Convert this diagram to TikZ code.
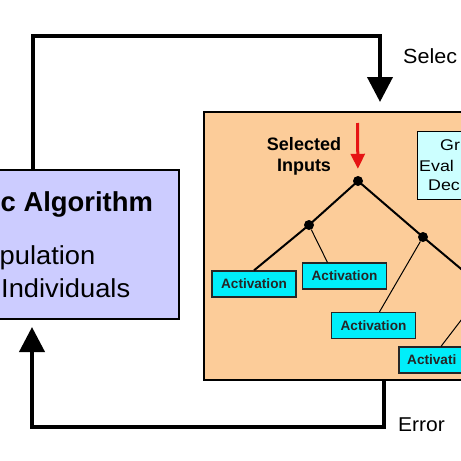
\documentclass[tikz,border=0pt]{standalone}
\usepackage{fontspec}
\setmainfont{Liberation Sans}
\newfontfamily\wsans[FakeStretch=1.05]{Liberation Sans}
\newfontfamily\gsans[FakeStretch=1.15]{Liberation Sans}
\usetikzlibrary{arrows.meta,calc}
\definecolor{peach}{RGB}{252,204,153}
\definecolor{lav}{RGB}{204,204,255}
\definecolor{acyan}{RGB}{0,238,250}
\definecolor{lcyan}{RGB}{204,255,255}
\definecolor{redarr}{RGB}{230,20,20}
\begin{document}
\begin{tikzpicture}[x=1pt,y=-1pt,
  conn/.style={line width=4pt},
  bigtip/.style={-{Triangle[width=25pt,length=25pt]}},
  gabox/.style={draw=black,line width=2pt,fill=lav,minimum width=199pt,minimum height=149pt,inner sep=0pt},
  orbox/.style={draw=black,line width=2pt,fill=peach,minimum width=356pt,minimum height=268pt,inner sep=0pt},
  grbox/.style={draw=black,line width=1pt,fill=lcyan,minimum width=83pt,minimum height=68pt,inner sep=0pt},
  actbox/.style={draw=black!85,line width=1.2pt,fill=acyan,minimum width=84pt,minimum height=26pt,inner sep=0pt,
     font=\bfseries\fontsize{13.6}{15}\selectfont,text=black!85},
  dot/.style={circle,fill=black,minimum size=10pt,inner sep=0pt},
  thick2/.style={line width=2pt},
  thin1/.style={line width=1pt},
  txt/.style={inner sep=0pt}]
\useasboundingbox (0,0) rectangle (461,461);
\clip (0,0) rectangle (461,461);
\fill[white] (0,0) rectangle (461,461);

% boxes
\node[gabox] (ga) at (79,244.5) {};
\node[orbox] (ob) at (382,246) {};
\node[grbox] (gr) at (458.5,165) {};

% GA texts
\node[txt,anchor=base west,font=\bfseries\fontsize{27.4}{30}\selectfont] (gat) at (0.5,211) {c Algorithm};
\node[txt,anchor=base west,font=\wsans\fontsize{26}{28}\selectfont] (gap) at (-0.5,264) {pulation};
\node[txt,anchor=base west,font=\wsans\fontsize{26}{28}\selectfont] (gai) at (1,297) {Individuals};

% outside labels
\node[txt,anchor=base west,font=\wsans\fontsize{20.5}{24}\selectfont] (sel) at (403,63) {Selec};
\node[txt,anchor=base west,font=\wsans\fontsize{20}{24}\selectfont] (err) at (398,431) {Error};

% Gr box texts
\node[txt,anchor=base west,font=\gsans\fontsize{15.5}{18}\selectfont] (gr1) at (440,150) {Gr};
\node[txt,anchor=base west,font=\gsans\fontsize{15.5}{18}\selectfont] (gr2) at (419,171) {Eval};
\node[txt,anchor=base west,font=\gsans\fontsize{15.5}{18}\selectfont] (gr3) at (428,190) {Dec};

% selected inputs
\node[txt,align=center,font=\bfseries\fontsize{18}{21}\selectfont] (si) at (304,156) {Selected\\Inputs};

% tree
\node[dot] (root) at (358,181) {};
\node[dot] (nl) at (309,225) {};
\node[dot] (nr) at (423,237) {};
\node[dot] (nrr) at (485,289) {};
\node[actbox] (a1) at (254,284) {Activation};
\node[actbox] (a2) at (344.5,276) {Activation};
\node[actbox] (a3) at (373.5,325.5) {Activation};
\node[actbox] (a4) at (441,360) {};
\node[txt,anchor=west,font=\bfseries\fontsize{13.6}{15}\selectfont,text=black!85] (a4t) at (407,360) {Activati};

\draw[thick2] (a1.north) -- (nl.center) -- (root.center) -- (nr.center) -- (nrr.center);
\draw[thin1] (nl) -- ($(a2.north west)!0.3!(a2.north east)$);
\draw[thin1] (nr) -- ($(a3.north west)!0.57!(a3.north east)$);
\draw[thin1] (nrr) -- (a4.north);

\coordinate (redtop) at (357.5,123);
\draw[redarr,line width=3pt,-{Triangle[width=14pt,length=15pt]},shorten >=7pt] (redtop) -- (root);

% main connectors
\coordinate (gx) at (32.5,0);
\coordinate (corner1) at (380,36);
\coordinate (selin) at (380,102);
\draw[conn,bigtip] (ga.north -| gx) |- (corner1) -- (selin);

\coordinate (ex) at (384,0);
\coordinate (corner2) at (32,426.5);
\coordinate (gain) at (32,327);
\draw[conn,bigtip] (ob.south -| ex) |- (corner2) -- (gain);
\end{tikzpicture}
\end{document}
